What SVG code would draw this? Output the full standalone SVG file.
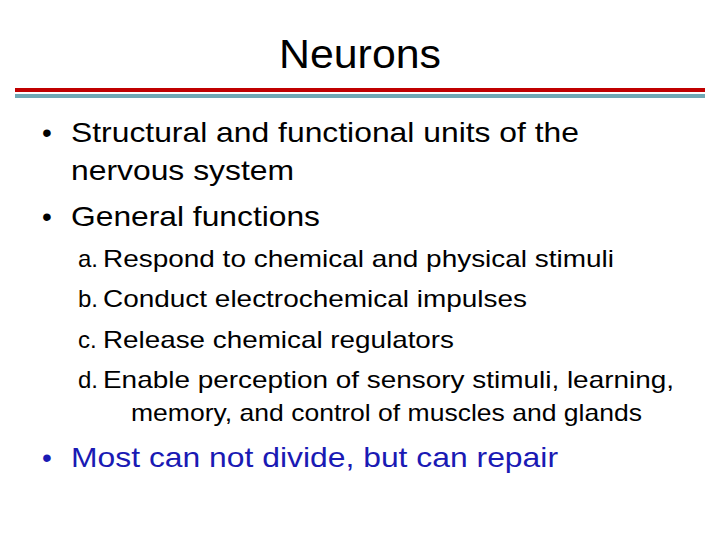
<svg xmlns="http://www.w3.org/2000/svg" width="720" height="540" viewBox="0 0 720 540">
<style>
text{font-family:"Liberation Sans",Arial,sans-serif;fill:#000}
.b{font-size:28px}
.s{font-size:24px}
</style>
<rect width="720" height="540" fill="#fff"/>
<text x="279" y="68" font-size="41" textLength="162" lengthAdjust="spacingAndGlyphs">Neurons</text>
<rect x="15" y="88" width="690" height="4" fill="#c00000"/>
<rect x="15" y="94" width="690" height="4" fill="#70a8b4"/>
<g class="b">
<text x="42" y="142">•</text><text x="71" y="142" textLength="508" lengthAdjust="spacingAndGlyphs">Structural and functional units of the</text>
<text x="71" y="180" textLength="223" lengthAdjust="spacingAndGlyphs">nervous system</text>
<text x="42" y="226">•</text><text x="71" y="226" textLength="249" lengthAdjust="spacingAndGlyphs">General functions</text>
</g>
<g class="s">
<text x="78" y="267">a.</text><text x="103" y="267" textLength="511" lengthAdjust="spacingAndGlyphs">Respond to chemical and physical stimuli</text>
<text x="78" y="307">b.</text><text x="103" y="307" textLength="424" lengthAdjust="spacingAndGlyphs">Conduct electrochemical impulses</text>
<text x="78" y="348">c.</text><text x="103" y="348" textLength="351" lengthAdjust="spacingAndGlyphs">Release chemical regulators</text>
<text x="78" y="388">d.</text><text x="103" y="388" textLength="571" lengthAdjust="spacingAndGlyphs">Enable perception of sensory stimuli, learning,</text>
<text x="131" y="421" textLength="511" lengthAdjust="spacingAndGlyphs">memory, and control of muscles and glands</text>
</g>
<text x="42" y="467" class="b" style="fill:#1a1ab4">•</text>
<text x="71" y="467" class="b" style="fill:#1a1ab4" textLength="487" lengthAdjust="spacingAndGlyphs">Most can not divide, but can repair</text>
</svg>
